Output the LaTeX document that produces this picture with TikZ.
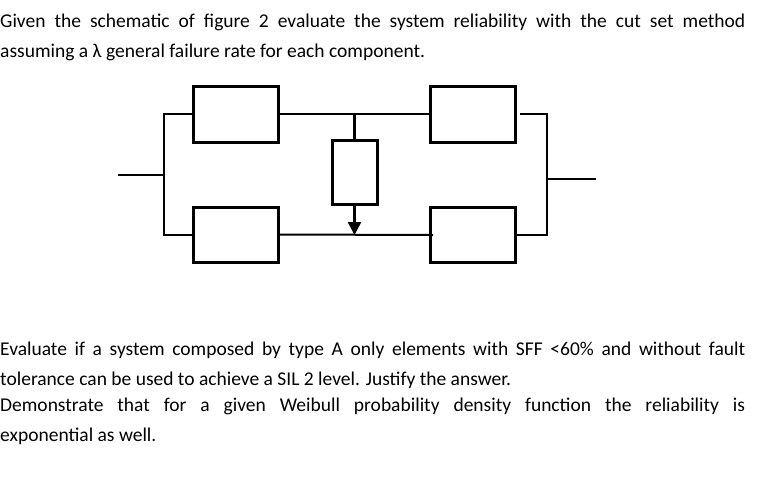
\documentclass[tikz,border=0pt]{standalone}
\usepackage{fontspec}
\setmainfont{Carlito}
\usetikzlibrary{arrows.meta}
\begin{document}
\begin{tikzpicture}[x=1pt,y=-1pt,
  blk/.style={draw,line width=3pt,inner sep=0pt},
  wire/.style={line width=2pt},
  para/.style={anchor=north west,inner sep=0pt,text width=745pt,align=justify,font=\fontsize{19.5}{30}\selectfont}]
\useasboundingbox (0,0) rectangle (772,485);
\node[para] (t1) at (0,14) {Given the schematic of figure 2 evaluate the system reliability with the cut set method\linebreak assuming a λ general failure rate for each component.};
\node[para] (t2) at (0,342) {Evaluate if a system composed by type A only elements with SFF <60\% and without fault\linebreak tolerance can be used to achieve a SIL 2 level. Justify the answer.\\[-4pt]Demonstrate that for a given Weibull probability density function the reliability is\linebreak exponential as well.};
\node[blk,minimum width=85pt,minimum height=56pt] (a) at (235.5,114) {};
\node[blk,minimum width=85pt,minimum height=56pt] (b) at (472.5,114) {};
\node[blk,minimum width=85pt,minimum height=55pt] (c) at (235.5,234.5) {};
\node[blk,minimum width=85pt,minimum height=55pt] (d) at (472.5,234.5) {};
\node[blk,minimum width=45pt,minimum height=64pt] (m) at (354.5,172) {};
\coordinate (inL) at (118,175);
\coordinate (jL) at (164,175);
\coordinate (jR) at (547,179);
\coordinate (outR) at (596,179);
\draw[wire] (inL) -- (jL);
\draw[wire] (a.west) -| (jL) |- (c.west);
\draw[wire] (a.east) -- (b.west);
\draw[wire,line width=3pt] (354.5,114) -- (m.north);
\draw[wire] (c.east) -- (433,235);
\draw[wire] (520,114) -| (jR) |- (d.east);
\draw[wire] (jR) -- (outR);
\draw[line width=2.5pt,-{Triangle[length=13pt,width=13pt]}] (m.south) -- (354.5,235);
\end{tikzpicture}
\end{document}
